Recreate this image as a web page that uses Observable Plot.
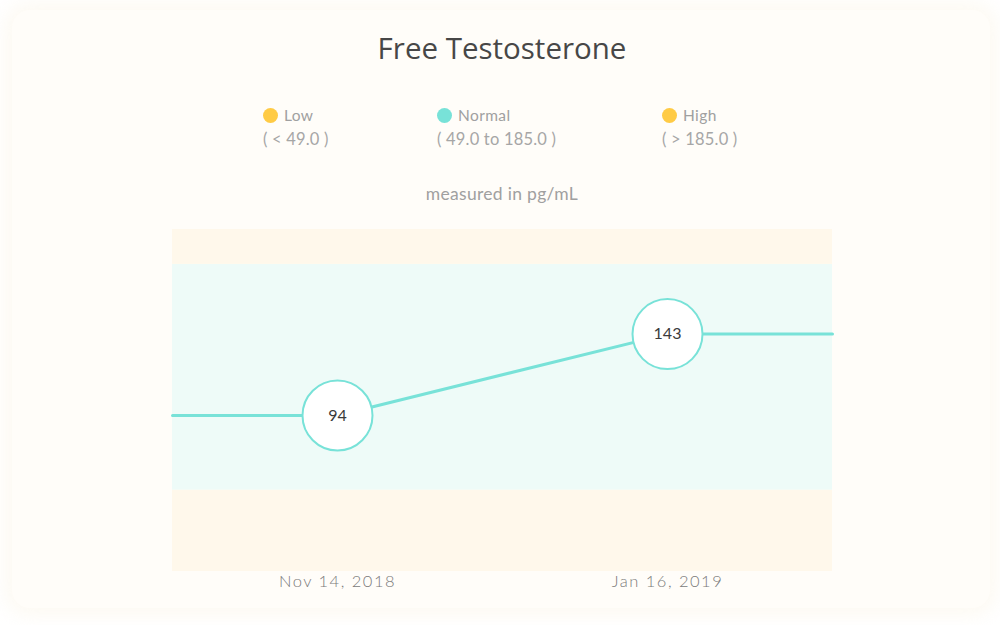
<!DOCTYPE html>
<html>
<head>
<meta charset="utf-8">
<script src="https://cdn.jsdelivr.net/npm/d3@7"></script>
<script src="https://cdn.jsdelivr.net/npm/@observablehq/plot@0.6"></script>
<style>
  html, body { margin: 0; padding: 0; background: #ffffff; }
  #page { position: relative; width: 1000px; height: 625px; overflow: hidden; }
  #card { position: absolute; left: 12px; top: 10px; width: 978px; height: 598px;
          background: #fffdf9; border-radius: 18px; box-shadow: 0 0 18px 8px rgba(252,248,238,0.7); }
  #title { position: absolute; left: 0; width: 1004px; top: 30px; text-align: center;
           font-family: "Open Sans", sans-serif; font-size: 29.5px; color: #474747; line-height: 36px; }
  .leg { position: absolute; font-family: Lato, "Open Sans", sans-serif; }
  .leg .row1 { display: flex; align-items: center; height: 20px; font-size: 15.5px; color: #a0a0a0; letter-spacing: 0.4px; }
  .leg .sw { width: 15px; height: 15px; border-radius: 50%; margin-right: 6px; }
  .leg .row2 { margin-top: 4px; font-size: 16.5px; color: #a6a6a6; letter-spacing: 0.2px; }
  #unit { position: absolute; left: 0; width: 1004px; top: 183px; text-align: center;
          font-family: Lato, "Open Sans", sans-serif; font-size: 17.5px; color: #a0a0a0; letter-spacing: 0.3px; }
  #chart { position: absolute; left: 0; top: 220px; }
</style>
</head>
<body>
<div id="page">
  <div id="card"></div>
  <div id="title">Free Testosterone</div>
  <div id="legend"></div>
  <div id="unit">measured in pg/mL</div>
  <div id="chart"></div>
</div>
<script>
// ---- data ----
const dates = ["2018-11-14", "2019-01-16"];
const values = [94, 143];
const tickLabels = ["Nov 14, 2018", "Jan 16, 2019"];

const bandNames = ["Low", "Normal", "High"];
const bandLow = [0, 49, 185];
const bandHigh = [49, 185, 206];
const bandFills = ["#fff8eb", "#eefbf8", "#fff8eb"];

const legendLabels = ["Low", "Normal", "High"];
const legendRanges = ["( < 49.0 )", "( 49.0 to 185.0 )", "( > 185.0 )"];
const legendColors = ["#ffcb45", "#78e2d8", "#ffcb45"];
const legendLeft = [263, 437, 662];

const lineColor = "#78e2d8";

// ---- legend ----
const legend = document.getElementById("legend");
legendLabels.forEach((lab, i) => {
  const d = document.createElement("div");
  d.className = "leg";
  d.style.left = legendLeft[i] + "px";
  d.style.top = "105px";
  d.innerHTML = `<div class="row1"><span class="sw" style="background:${legendColors[i]}"></span>${lab}</div>
                 <div class="row2">${legendRanges[i]}</div>`;
  legend.appendChild(d);
});

// ---- chart ----
const parse = d3.utcParse("%Y-%m-%d");
const pts = dates.map((d, i) => ({date: parse(d), value: values[i], label: tickLabels[i]}));
const gap = pts[pts.length - 1].date - pts[0].date;
const x0 = new Date(+pts[0].date - gap / 2);
const x1 = new Date(+pts[pts.length - 1].date + gap / 2);
const lineData = [{date: x0, value: values[0]}, ...pts, {date: x1, value: values[values.length - 1]}];
const bands = bandNames.map((n, i) => ({name: n, lo: bandLow[i], hi: bandHigh[i], fill: bandFills[i]}));

const plot = Plot.plot({
  width: 1000,
  height: 390,
  marginLeft: 172,
  marginRight: 168,
  marginTop: 9,
  marginBottom: 39,
  style: {background: "transparent", overflow: "visible"},
  x: {type: "utc", domain: [x0, x1], axis: null},
  y: {domain: [0, 206], axis: null},
  marks: [
    Plot.rect(bands, {y1: "lo", y2: "hi", fill: "fill"}),
    Plot.line(lineData, {x: "date", y: "value", stroke: lineColor, strokeWidth: 3}),
    Plot.dot(pts, {x: "date", y: "value", r: 35, fill: "white", stroke: lineColor, strokeWidth: 2}),
    Plot.text(pts, {x: "date", y: "value", text: d => String(d.value), fontSize: 16, fill: "#3a3a3a",
                    fontFamily: "Lato, 'Open Sans', sans-serif"}),
    Plot.axisX(pts.map(d => d.date), {tickSize: 0, tickPadding: 4, tickFormat: (d, i) => tickLabels[i],
               fontSize: 16.5, fill: "#7a7a7a", fontFamily: "Lato, 'Open Sans', sans-serif",
               label: null, textAnchor: "middle"})
  ]
});
plot.querySelectorAll('[aria-label="x-axis tick label"] text').forEach(t => { t.style.letterSpacing = "1.5px"; t.style.fontWeight = "300"; });
document.getElementById("chart").appendChild(plot);
</script>
</body>
</html>
